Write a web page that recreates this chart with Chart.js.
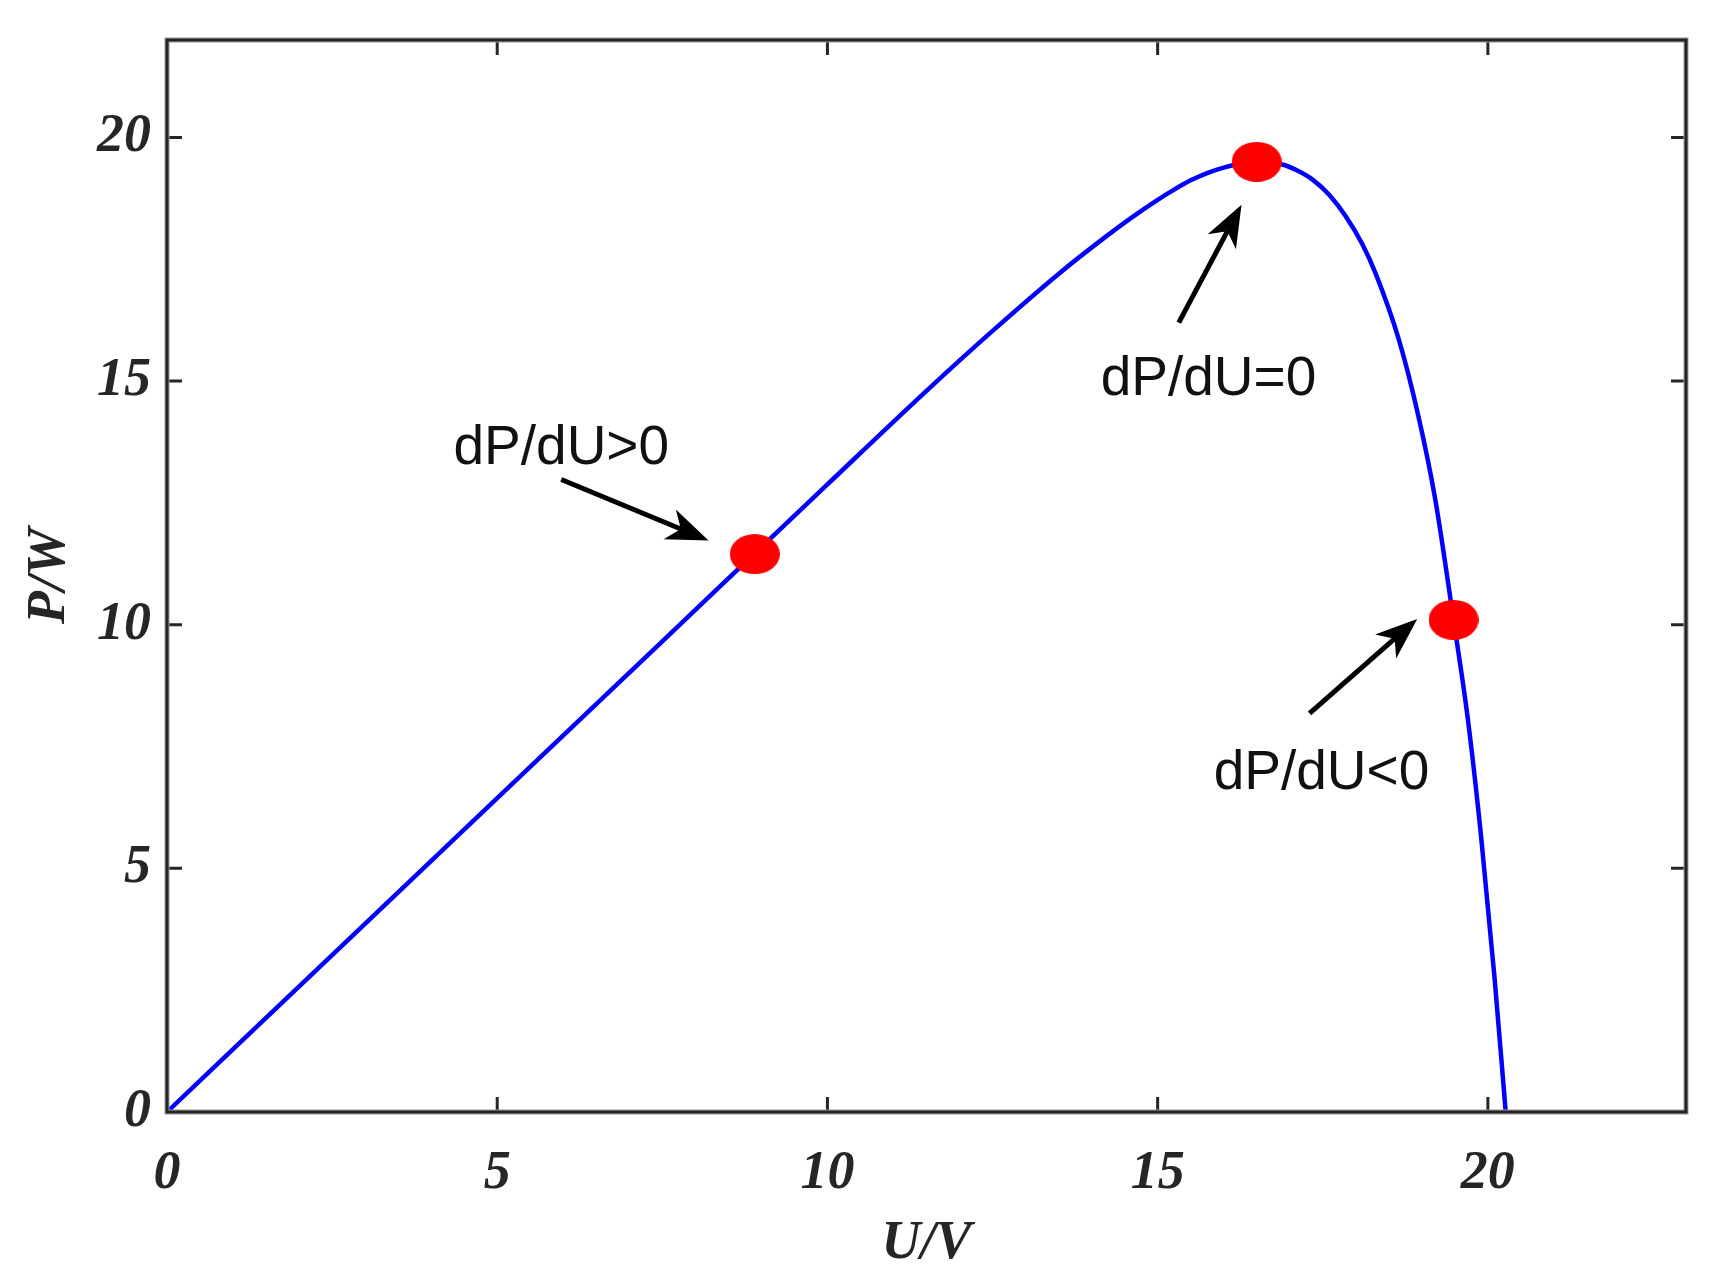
<!DOCTYPE html>
<html>
<head>
<meta charset="utf-8">
<script src="https://cdn.jsdelivr.net/npm/chart.js@4.4.1/dist/chart.umd.min.js"></script>
<style>
  html, body { margin: 0; padding: 0; background: #fff; }
  #wrap { width: 1712px; height: 1280px; }
</style>
</head>
<body>
<div id="wrap"><canvas id="pvChart"></canvas></div>
<script>
// P-U curve of the PV module
const voltage = [0, 2.5, 5, 7.5, 10, 11.5, 12.5, 13.5, 14.25, 14.6, 15, 15.25, 15.5, 15.75, 16, 16.25, 16.5, 16.9, 17.1, 17.35, 17.6, 17.85, 18.1, 18.3, 18.65, 18.95, 19.2, 19.48, 19.7, 19.9, 20.1, 20.27];
const power   = [0, 3.22, 6.44, 9.66, 12.88, 14.8, 16.03, 17.2, 18.0, 18.35, 18.72, 18.93, 19.12, 19.27, 19.38, 19.46, 19.5, 19.44, 19.33, 19.13, 18.82, 18.38, 17.81, 17.21, 15.86, 14.27, 12.6, 10.1, 8.03, 5.62, 2.77, 0];

// the three marked operating points
const markU = [8.9, 16.5, 19.48];
const markP = [11.45, 19.5, 10.1];

const xTicks = [0, 5, 10, 15, 20];
const yTicks = [0, 5, 10, 15, 20];

// annotation texts and arrows, in data units
const noteText  = ['dP/dU>0', 'dP/dU=0', 'dP/dU<0'];
const noteAt    = [[5.97, 13.6], [15.77, 15.02], [17.48, 6.95]];
const arrowFrom = [[5.97, 12.98], [15.32, 16.2], [17.3, 8.18]];
const arrowTo   = [[8.2, 11.73], [16.27, 18.62], [18.93, 10.12]];

const serif = '"Liberation Serif", "Times New Roman", serif';
const axisFont = { family: serif, size: 54, weight: 'bold', style: 'italic' };

// red markers are slightly wider than tall in the figure
const dot = document.createElement('canvas');
dot.width = 50; dot.height = 40;
const dc = dot.getContext('2d');
dc.fillStyle = '#ff0000';
dc.beginPath();
dc.ellipse(25, 20, 25, 20, 0, 0, Math.PI * 2);
dc.fill();

function drawArrow(ctx, x1, y1, x2, y2) {
    const a = Math.atan2(y2 - y1, x2 - x1);
    const len = 42, half = 16, notch = 12;
    const c = Math.cos(a), s = Math.sin(a);
    ctx.strokeStyle = '#000';
    ctx.fillStyle = '#000';
    ctx.lineWidth = 5;
    ctx.beginPath();
    ctx.moveTo(x1, y1);
    ctx.lineTo(x2 - c * (len - notch), y2 - s * (len - notch));
    ctx.stroke();
    ctx.beginPath();
    ctx.moveTo(x2, y2);
    ctx.lineTo(x2 - c * len - s * half, y2 - s * len + c * half);
    ctx.lineTo(x2 - c * (len - notch), y2 - s * (len - notch));
    ctx.lineTo(x2 - c * len + s * half, y2 - s * len - c * half);
    ctx.closePath();
    ctx.fill();
}

// MATLAB style box with inward ticks, plus the arrows and notes
const boxPlugin = {
    id: 'boxPlugin',
    afterDraw(chart) {
        const ctx = chart.ctx;
        const { left, right, top, bottom } = chart.chartArea;
        const xs = chart.scales.x, ys = chart.scales.y;
        ctx.save();

        ctx.strokeStyle = '#262626';
        ctx.lineWidth = 3;
        xTicks.forEach(v => {
            if (v === 0) return;
            const px = xs.getPixelForValue(v);
            ctx.beginPath();
            ctx.moveTo(px, bottom); ctx.lineTo(px, bottom - 15);
            ctx.moveTo(px, top); ctx.lineTo(px, top + 15);
            ctx.stroke();
        });
        yTicks.forEach(v => {
            if (v === 0) return;
            const py = ys.getPixelForValue(v);
            ctx.beginPath();
            ctx.moveTo(left, py); ctx.lineTo(left + 15, py);
            ctx.moveTo(right, py); ctx.lineTo(right - 15, py);
            ctx.stroke();
        });

        ctx.strokeStyle = '#9a9a9a';
        ctx.lineWidth = 5;
        ctx.strokeRect(left, top, right - left, bottom - top);
        ctx.strokeStyle = '#262626';
        ctx.lineWidth = 3;
        ctx.strokeRect(left, top, right - left, bottom - top);

        for (let i = 0; i < noteText.length; i++) {
            drawArrow(ctx,
                xs.getPixelForValue(arrowFrom[i][0]), ys.getPixelForValue(arrowFrom[i][1]),
                xs.getPixelForValue(arrowTo[i][0]), ys.getPixelForValue(arrowTo[i][1]));
            ctx.font = '55px "Liberation Sans", Arial, sans-serif';
            ctx.fillStyle = '#111';
            ctx.textAlign = 'center';
            ctx.textBaseline = 'middle';
            ctx.fillText(noteText[i], xs.getPixelForValue(noteAt[i][0]), ys.getPixelForValue(noteAt[i][1]));
        }
        ctx.restore();
    }
};

const ctx = document.getElementById('pvChart').getContext('2d');
new Chart(ctx, {
    type: 'scatter',
    data: {
        datasets: [{
            label: 'marks',
            data: markU.map((u, i) => ({ x: u, y: markP[i] })),
            pointStyle: dot,
            pointRadius: 25,
            showLine: false,
            order: 0
        }, {
            label: 'P-U',
            data: voltage.map((u, i) => ({ x: u, y: power[i] })),
            showLine: true,
            borderColor: '#0000ff',
            borderWidth: 4.5,
            pointRadius: 0,
            cubicInterpolationMode: 'monotone',
            fill: false,
            order: 1
        }]
    },
    options: {
        responsive: true,
        maintainAspectRatio: false,
        animation: false,
        layout: { padding: { top: 40, right: 17, left: 0, bottom: 0 } },
        plugins: {
            legend: { display: false },
            tooltip: { enabled: false }
        },
        scales: {
            x: {
                type: 'linear',
                min: 0,
                max: 23,
                afterBuildTicks: s => { s.ticks = xTicks.map(v => ({ value: v })); },
                afterFit: s => { s.height = 168; },
                grid: { display: false, drawTicks: false },
                border: { display: false },
                ticks: { font: axisFont, color: '#262626', padding: 30, maxRotation: 0 },
                title: { display: true, text: 'U/V', font: axisFont, color: '#262626', padding: { top: 0, bottom: 4 } }
            },
            y: {
                type: 'linear',
                min: 0,
                max: 22,
                afterBuildTicks: s => { s.ticks = yTicks.map(v => ({ value: v })); },
                afterFit: s => { s.width = 167; },
                grid: { display: false, drawTicks: false },
                border: { display: false },
                ticks: { font: { ...axisFont, lineHeight: 0.6 }, color: '#262626', padding: 16 },
                title: { display: true, text: 'P/W', font: axisFont, color: '#262626', padding: { top: 18, bottom: 0 } }
            }
        }
    },
    plugins: [boxPlugin]
});
</script>
</body>
</html>
